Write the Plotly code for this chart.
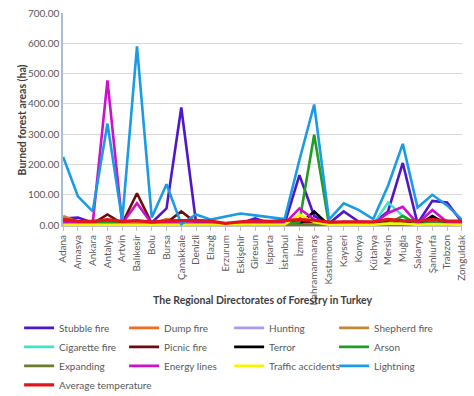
import plotly.graph_objects as go

categories = ["Adana", "Amasya", "Ankara", "Antalya", "Artvin", "Balıkesir", "Bolu", "Bursa",
              "Çanakkale", "Denizli", "Elazığ", "Erzurum", "Eskişehir", "Giresun", "Isparta",
              "İstanbul", "İzmir", "Kahramanmaraş", "Kastamonu", "Kayseri", "Konya", "Kütahya",
              "Mersin", "Muğla", "Sakarya", "Şanlıurfa", "Trabzon", "Zonguldak"]

stubble_fire = [22, 25, 8, 10, 5, 5, 8, 55, 388, 8, 5, 3, 5, 22, 5, 5, 165, 30, 5, 45, 12, 8, 45, 205, 5, 80, 75, 10]
dump_fire = [25, 8, 3, 10, 2, 8, 3, 20, 10, 5, 1, 1, 3, 3, 3, 5, 8, 5, 2, 5, 3, 3, 8, 10, 3, 5, 3, 3]
hunting = [5, 5, 2, 3, 2, 3, 2, 5, 3, 3, 1, 1, 2, 3, 2, 3, 5, 3, 2, 3, 2, 2, 5, 5, 2, 3, 3, 2]
shepherd_fire = [30, 10, 3, 8, 2, 5, 3, 18, 8, 5, 1, 1, 3, 3, 3, 3, 5, 5, 2, 5, 3, 3, 5, 5, 2, 5, 3, 3]
cigarette_fire = [3, 2, 2, 5, 2, 3, 2, 5, 3, 3, 1, 1, 2, 2, 2, 3, 20, 8, 2, 3, 2, 2, 75, 30, 2, 8, 3, 2]
picnic_fire = [15, 12, 5, 35, 5, 105, 5, 8, 45, 8, 3, 3, 5, 5, 5, 8, 10, 12, 5, 10, 8, 5, 10, 12, 5, 20, 8, 8]
terror = [0, 0, 0, 0, 0, 0, 0, 0, 0, 0, 0, 0, 0, 0, 0, 0, 2, 45, 0, 0, 0, 0, 5, 8, 0, 30, 2, 0]
arson = [3, 3, 2, 12, 2, 3, 2, 3, 3, 3, 1, 1, 2, 2, 2, 3, 10, 298, 2, 3, 2, 2, 5, 30, 2, 10, 3, 2]
expanding = [2, 2, 1, 3, 1, 2, 1, 2, 2, 2, 1, 1, 1, 1, 1, 2, 3, 3, 1, 2, 1, 1, 3, 3, 1, 5, 2, 1]
energy_lines = [8, 8, 5, 478, 5, 72, 5, 8, 5, 5, 3, 3, 5, 10, 5, 5, 55, 18, 5, 10, 8, 5, 40, 60, 5, 50, 10, 10]
traffic_accidents = [1, 1, 1, 2, 1, 1, 1, 2, 1, 1, 0, 0, 1, 1, 1, 2, 35, 10, 1, 2, 1, 1, 5, 5, 1, 3, 1, 1]
lightning = [225, 95, 45, 335, 15, 590, 25, 135, 3, 35, 18, 28, 38, 32, 25, 20, 215, 398, 18, 72, 50, 20, 130, 268, 58, 100, 65, 18]
average_temperature = [19, 13, 12, 18, 12, 15, 10, 14, 15, 16, 13, 6, 11, 14, 12, 14, 18, 16, 10, 11, 11, 11, 19, 15, 14, 18, 14, 13]

y_ticks = [0, 100, 200, 300, 400, 500, 600, 700]

series = [
    ("Stubble fire", stubble_fire, "#4f17c9", 2.6),
    ("Dump fire", dump_fire, "#f26b21", 2.6),
    ("Hunting", hunting, "#a99cf0", 2.6),
    ("Shepherd fire", shepherd_fire, "#c0873a", 2.6),
    ("Cigarette fire", cigarette_fire, "#3fe3c6", 2.6),
    ("Picnic fire", picnic_fire, "#6e0b0b", 2.6),
    ("Terror", terror, "#000000", 2.6),
    ("Arson", arson, "#1f9e25", 2.6),
    ("Expanding", expanding, "#6b7d2c", 2.6),
    ("Energy lines", energy_lines, "#cc10cc", 2.6),
    ("Traffic accidents", traffic_accidents, "#f5f500", 2.6),
    ("Lightning", lightning, "#1b9ae6", 2.6),
    ("Average temperature", average_temperature, "#e3141b", 3.2),
]

fig = go.Figure()
for name, vals, color, w in series:
    fig.add_trace(go.Scatter(x=categories, y=vals, mode="lines", name=name,
                             line=dict(color=color, width=w)))

font_family = "Lato, 'Open Sans', sans-serif"
fig.update_layout(
    width=474, height=396,
    margin=dict(l=63, r=12, t=13, b=170, autoexpand=False),
    paper_bgcolor="white", plot_bgcolor="white",
    font=dict(family=font_family, size=10, color="#595959"),
    showlegend=True,
    legend=dict(orientation="h", xref="paper", yref="paper",
                x=-0.110, xanchor="left", y=-0.410, yanchor="top",
                entrywidth=60, entrywidthmode="pixels", itemwidth=30,
                font=dict(size=10, color="#595959"), tracegroupgap=0,
                traceorder="normal", bgcolor="rgba(0,0,0,0)"),
    xaxis=dict(type="category", range=[-0.01, len(categories) - 1 + 0.01], tickangle=-90,
               showgrid=False, showline=True, linecolor="#bfbfbf", linewidth=1,
               ticks="outside", ticklen=4, tickcolor="#bfbfbf",
               tickfont=dict(size=10, color="#595959"), automargin=False),
    yaxis=dict(range=[-3, 700], tickvals=y_ticks, tickformat=".2f",
               showgrid=True, gridcolor="#d9d9d9", gridwidth=1,
               showline=True, linecolor="#a9bcdc", linewidth=1.5, zeroline=False,
               tickfont=dict(size=10, color="#595959"), automargin=False),
    annotations=[
        dict(text="<b>The Regional Directorates of Forestry in Turkey</b>",
             xref="paper", yref="paper", x=0.5, y=-0.347, xanchor="center", yanchor="middle",
             showarrow=False, font=dict(size=10.5, color="#404040")),
        dict(text="<b>Burned forest areas (ha)</b>", textangle=-90,
             xref="paper", yref="paper", x=-0.103, y=0.5, xanchor="center", yanchor="middle",
             showarrow=False, font=dict(size=10.5, color="#404040")),
    ],
)

fig.write_html("out.html", config={"displayModeBar": False},
               post_script="document.body.style.margin='0';")
